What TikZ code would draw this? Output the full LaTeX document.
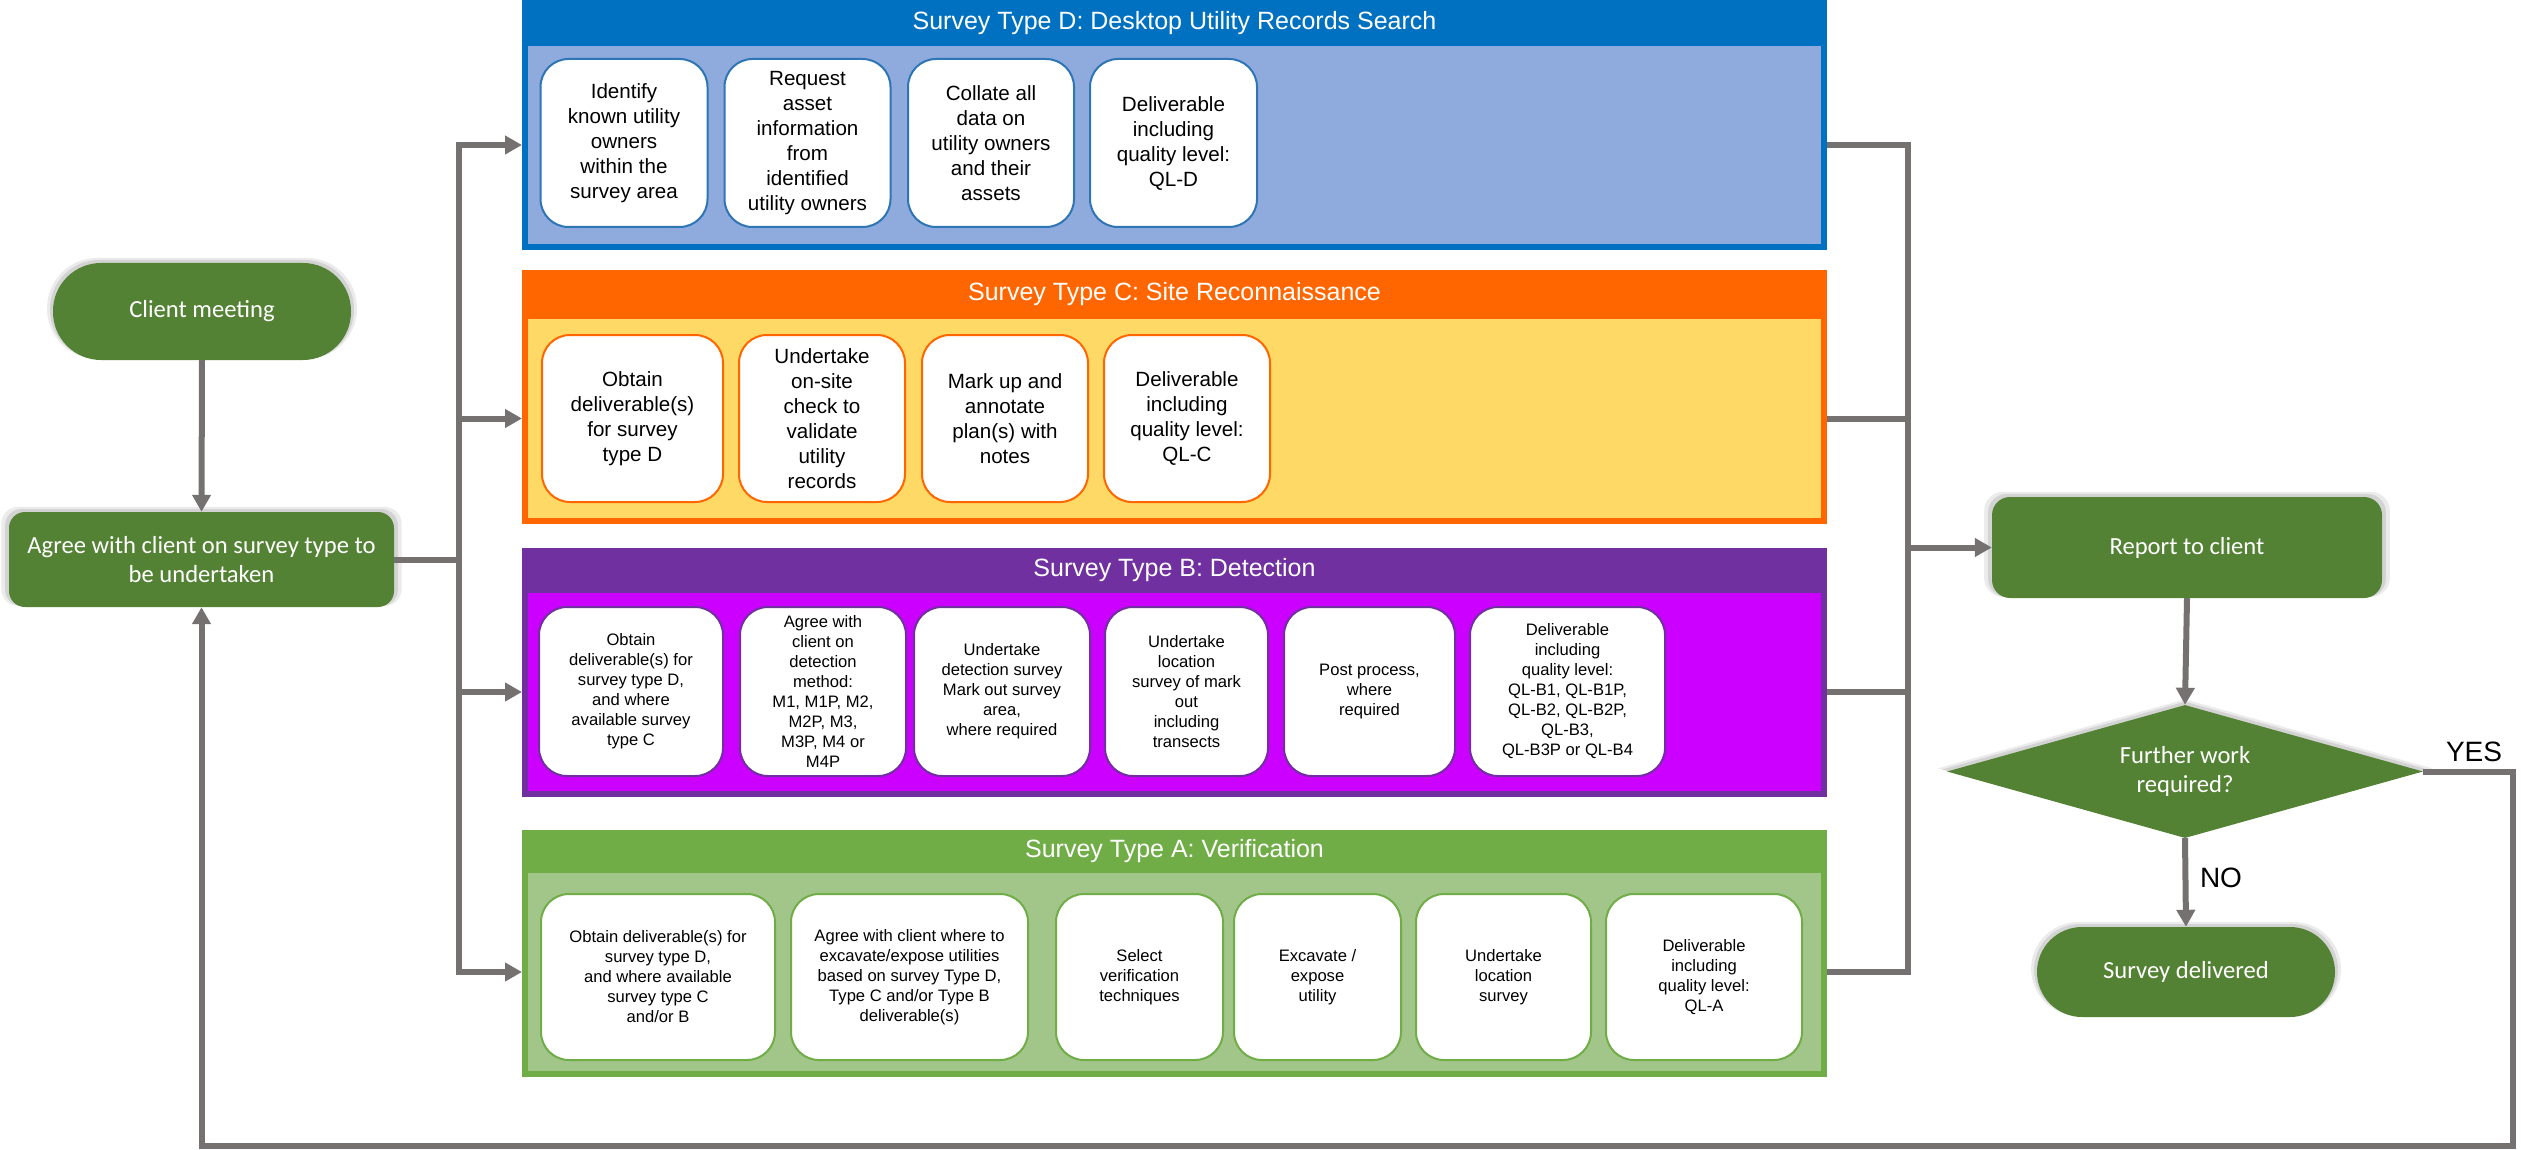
\documentclass[tikz,border=0pt]{standalone}
\usepackage{fontspec}
\setmainfont{Liberation Sans}
\newfontfamily\calfont{Carlito}
\usetikzlibrary{arrows.meta,shapes.geometric,shadows}
\definecolor{Dhead}{HTML}{0070C0}
\definecolor{Din}{HTML}{8FAADC}
\definecolor{Dline}{HTML}{2E75B6}
\definecolor{Chead}{HTML}{FF6600}
\definecolor{Cin}{HTML}{FFD966}
\definecolor{Bhead}{HTML}{7030A0}
\definecolor{Bin}{HTML}{CC00FF}
\definecolor{Ahead}{HTML}{70AD47}
\definecolor{Ain}{HTML}{A2C68A}
\definecolor{Gnode}{HTML}{548235}
\definecolor{Conn}{HTML}{767171}
\begin{document}
\begin{tikzpicture}[x=1pt,y=-1pt,
  secbox/.style={rectangle,inner sep=0pt,outer sep=0pt},
  inbox/.style={rectangle,inner sep=0pt,outer sep=0pt,minimum width=1293},
  title/.style={text=white,font=\fontsize{25}{30}\selectfont,inner sep=0pt},
  sub/.style={draw,fill=white,line width=2pt,rounded corners=28pt,align=center,inner sep=2pt,text=black},
  dtext/.style={font=\fontsize{20.6}{25}\selectfont},
  btext/.style={font=\fontsize{16.6}{20}\selectfont},
  gshadow/.style={general shadow={fill=black,opacity=.08,shadow yshift=3pt,shadow scale=1.04},
                  general shadow={fill=black,opacity=.10,shadow yshift=2pt,shadow scale=1.02}},
  green/.style={fill=Gnode,text=white,align=center,inner sep=0pt,gshadow,
                font=\calfont\fontsize{24.6}{29}\selectfont},
  conn/.style={draw=Conn,line width=6pt},
  tip/.style={-{Triangle[length=17pt,width=18pt]}},
  lbl/.style={font=\fontsize{28}{32}\selectfont,text=black,inner sep=0pt}
]
\useasboundingbox (0,0) rectangle (2521,1150);

% ---------- sections ----------
\node[secbox,fill=Dhead,minimum width=1305,minimum height=250] (secD) at (1174.5,125) {};
\node[inbox,fill=Din,minimum height=198] (dIn) at (1174.5,145) {};
\node[title] (dT) at (1174.5,23) {Survey Type D: Desktop Utility Records Search};

\node[secbox,fill=Chead,minimum width=1305,minimum height=254] (secC) at (1174.5,397) {};
\node[inbox,fill=Cin,minimum height=199] (cIn) at (1174.5,418.5) {};
\node[title] (cT) at (1174.5,294.5) {Survey Type C: Site Reconnaissance};

\node[secbox,fill=Bhead,minimum width=1305,minimum height=249] (secB) at (1174.5,672.5) {};
\node[inbox,fill=Bin,minimum height=198] (bIn) at (1174.5,692) {};
\node[title] (bT) at (1174.5,570.5) {Survey Type B: Detection};

\node[secbox,fill=Ahead,minimum width=1305,minimum height=247] (secA) at (1174.5,953.5) {};
\node[inbox,fill=Ain,minimum height=198] (aIn) at (1174.5,972) {};
\node[title] (aT) at (1174.5,851.5) {Survey Type A: Verification};

% ---------- D boxes ----------
\begin{scope}[every node/.style={sub,dtext,draw=Dline,minimum height=168}]
\node[minimum width=167] (d1) at (624,143) {Identify\\known utility\\owners\\within the\\survey area};
\node[minimum width=166] (d2) at (807.5,143) {Request\\asset\\information\\from\\identified\\utility owners};
\node[minimum width=166] (d3) at (991,143) {Collate all\\data on\\utility owners\\and their\\assets};
\node[minimum width=167] (d4) at (1173.5,143) {Deliverable\\including\\quality level:\\QL-D};
\end{scope}

% ---------- C boxes ----------
\begin{scope}[every node/.style={sub,dtext,draw=Chead,minimum height=167}]
\node[minimum width=181] (c1) at (632.5,418.5) {Obtain\\deliverable(s)\\for survey\\type D};
\node[minimum width=166] (c2) at (822,418.5) {Undertake\\on-site\\check to\\validate\\utility\\records};
\node[minimum width=166] (c3) at (1005,418.5) {Mark up and\\annotate\\plan(s) with\\notes};
\node[minimum width=166] (c4) at (1187,418.5) {Deliverable\\including\\quality level:\\QL-C};
\end{scope}

% ---------- B boxes ----------
\begin{scope}[every node/.style={sub,btext,draw=Bhead,minimum height=169}]
\node[minimum width=184] (b1) at (631,691.5) {Obtain\\deliverable(s) for\\survey type D,\\and where\\available survey\\type C};
\node[minimum width=166] (b2) at (823,691.5) {Agree with\\client on\\detection\\method:\\M1, M1P, M2,\\M2P, M3,\\M3P, M4 or\\M4P};
\node[minimum width=176] (b3) at (1002,691.5) {Undertake\\detection survey\\Mark out survey\\area,\\where required};
\node[minimum width=163] (b4) at (1186.5,691.5) {Undertake\\location\\survey of mark\\out\\including\\transects};
\node[minimum width=171] (b5) at (1369.5,691.5) {Post process,\\where\\required};
\node[minimum width=195] (b6) at (1567.5,691.5) {Deliverable\\including\\quality level:\\QL-B1, QL-B1P,\\QL-B2, QL-B2P,\\QL-B3,\\QL-B3P or QL-B4};
\end{scope}

% ---------- A boxes ----------
\begin{scope}[every node/.style={sub,btext,draw=Ahead,minimum height=166}]
\node[minimum width=234] (a1) at (658,977) {Obtain deliverable(s) for\\survey type D,\\and where available\\survey type C\\and/or B};
\node[minimum width=237] (a2) at (909.5,977) {Agree with client where to\\excavate/expose utilities\\based on survey Type D,\\Type C and/or Type B\\deliverable(s)};
\node[minimum width=167] (a3) at (1139.5,977) {Select\\verification\\techniques};
\node[minimum width=167] (a4) at (1317.5,977) {Excavate /\\expose\\utility};
\node[minimum width=175] (a5) at (1503.5,977) {Undertake\\location\\survey};
\node[minimum width=196] (a6) at (1704,977) {Deliverable\\including\\quality level:\\QL-A};
\end{scope}

% ---------- green flow nodes ----------
\node[green,rectangle,rounded corners=48pt,minimum width=298,minimum height=97] (client) at (202,311.5) {Client meeting};
\node[green,rectangle,rounded corners=16pt,minimum width=385,minimum height=95] (agree) at (201.5,559.5) {Agree with client on survey type to\\be undertaken};
\node[green,rectangle,rounded corners=18pt,minimum width=390,minimum height=101] (report) at (2187,547.5) {Report to client};
\node[green,diamond,aspect=3.58,minimum width=476,minimum height=133] (dia) at (2185,771.5) {Further work\\required?};
\node[green,rectangle,rounded corners=45pt,minimum width=298,minimum height=90] (deliv) at (2186,972) {Survey delivered};

\node[lbl] (yes) at (2474,752) {YES};
\node[lbl] (no) at (2221,878) {NO};

% ---------- connectors ----------
\coordinate (trunkL) at (459,0);
\coordinate (trunkR) at (1908,0);
\coordinate (fbR) at (2513,1146);

\draw[conn,tip] (client.south) -- (agree.north);
\draw[conn] (agree.east) -- (agree.east -| trunkL);
\draw[conn,{Triangle[length=17pt,width=18pt]}-{Triangle[length=17pt,width=18pt]}]
  (dIn -| secD.west) -- (trunkL |- dIn) -- (trunkL |- aIn) -- (aIn -| secA.west);
\draw[conn,tip] (trunkL |- cIn) -- (cIn -| secC.west);
\draw[conn,tip] (trunkL |- bIn) -- (bIn -| secB.west);

\draw[conn] (dIn -| secD.east) -- (trunkR |- dIn) -- (trunkR |- aIn) -- (aIn -| secA.east);
\draw[conn] (cIn -| secC.east) -- (trunkR |- cIn);
\draw[conn] (bIn -| secB.east) -- (trunkR |- bIn);
\draw[conn,tip] (trunkR |- report.west) -- (report.west);

\draw[conn,tip] (report.south) -- (dia.north);
\draw[conn,tip] (dia.south) -- (deliv.north);
\draw[conn,tip] (dia.east) -- (dia.east -| fbR) -- (fbR) -- (fbR -| agree.south) -- (agree.south);
\end{tikzpicture}
\end{document}
